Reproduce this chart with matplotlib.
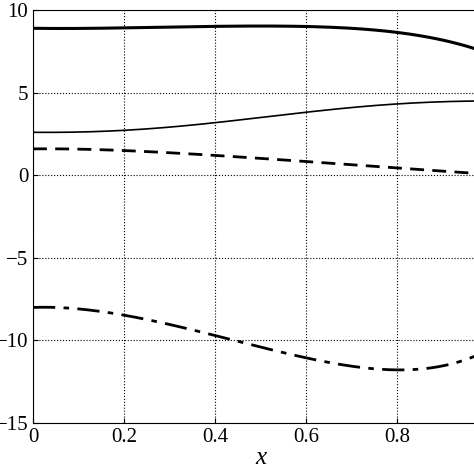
import matplotlib
matplotlib.use("Agg")
import matplotlib.pyplot as plt
import numpy as np

plt.rcParams['font.family'] = ['Liberation Serif', 'DejaVu Serif']

x_pts = [0.0, 0.1, 0.2, 0.3, 0.4, 0.5, 0.6, 0.7, 0.8, 0.9, 0.96, 1.0]
thick = [8.9, 8.9, 8.92, 8.97, 9.02, 9.05, 9.0, 8.9, 8.65, 8.2, 7.75, 7.4]
thin = [2.6, 2.62, 2.72, 2.92, 3.18, 3.5, 3.82, 4.1, 4.32, 4.45, 4.5, 4.5]
dashed = [1.6, 1.58, 1.5, 1.37, 1.2, 1.02, 0.84, 0.64, 0.44, 0.25, 0.14, 0.07]
dashdot = [-8.0, -8.1, -8.45, -9.05, -9.7, -10.4, -11.05, -11.55, -11.8, -11.55, -11.05, -10.6]

fig = plt.figure(figsize=(4.74, 4.74), dpi=100)
ax = fig.add_axes([0.0696, 0.1076, 0.96, 0.871])
xs = np.linspace(0, 1, 200)
def smooth(v):
    from numpy.polynomial import polynomial as P
    c = np.polyfit(x_pts, v, 5)
    return np.polyval(c, xs)
ax.plot(xs, smooth(thick), 'k-', lw=2.2)
ax.plot(xs, smooth(thin), 'k-', lw=1.2)
ax.plot(xs, smooth(dashed), 'k--', lw=2.0, dashes=(5, 3))
ax.plot(xs, smooth(dashdot), 'k-.', lw=2.0, dashes=(8, 3, 2, 3))
ax.set_xlim(0, 1)
ax.set_ylim(-15, 10)
ax.set_xticks([0, 0.2, 0.4, 0.6, 0.8, 1.0])
ax.set_xticklabels(['0', '0.2', '0.4', '0.6', '0.8', '1'])
ax.set_yticks([-15, -10, -5, 0, 5, 10])
ax.set_yticklabels(['\u221215', '\u221210', '\u22125', '0', '5', '10'])
ax.grid(True, linestyle=':', color='k', lw=0.8)
ax.tick_params(direction='in', labelsize=15)
ax.set_xlabel('x', fontstyle='italic', fontsize=18, labelpad=0)
fig.savefig('out.png', dpi=100)
